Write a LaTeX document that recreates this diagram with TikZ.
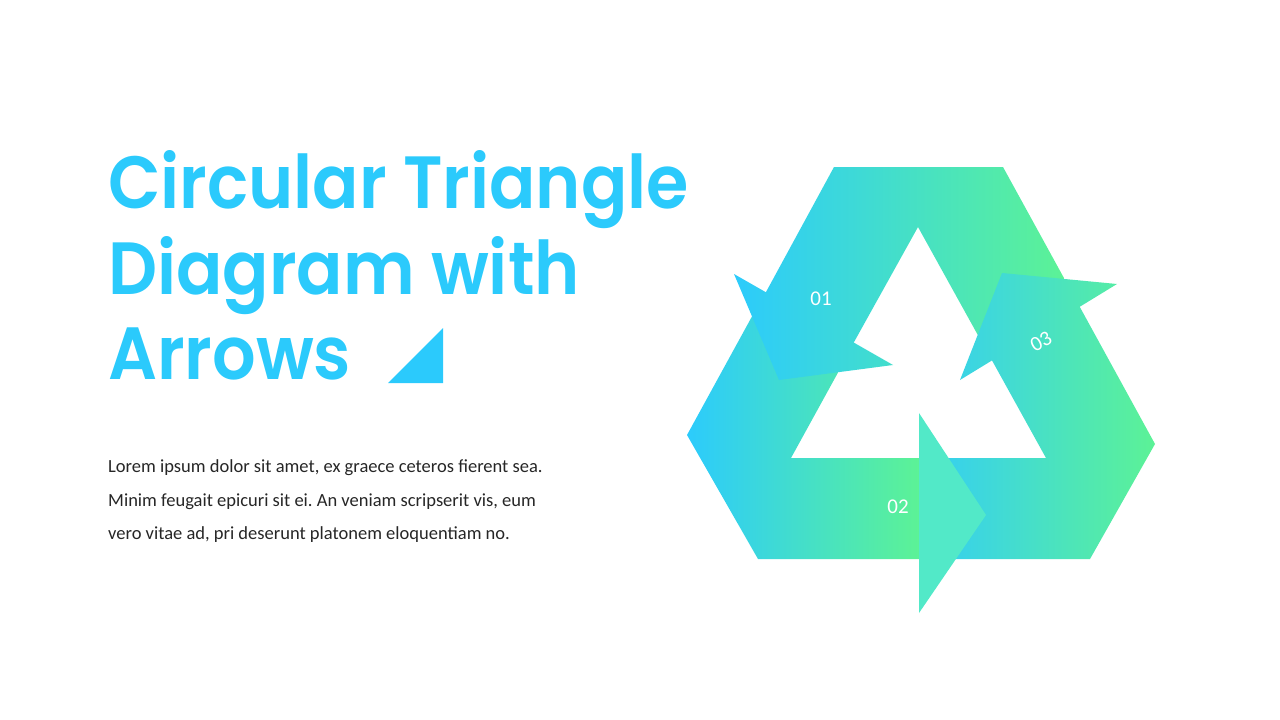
\documentclass[tikz,border=0pt]{standalone}
\usepackage{fontspec}
\setmainfont{Carlito}
\newfontfamily\titlefont{Poppins SemiBold}
\usetikzlibrary{calc}
\usetikzlibrary{positioning}
\definecolor{titleblue}{HTML}{2BCAFC}
\definecolor{recblue}{HTML}{2CCBFC}
\definecolor{reccyan}{HTML}{38D2EA}
\definecolor{recgreen}{HTML}{5CF296}
\definecolor{recmint}{HTML}{52E9C8}
\definecolor{bodygray}{HTML}{262626}
\frenchspacing
\tikzset{
	band/.style={left color=recblue, right color=recgreen},
	bandlate/.style={left color=reccyan, right color=recgreen},
	titleline/.style={
		anchor=base west,
		inner sep=0pt,
		xscale=0.925,
		text=titleblue,
		font=\titlefont\fontsize{74}{86}\selectfont},
	bodyline/.style={
		anchor=base west,
		inner sep=0pt,
		text=bodygray,
		font=\fontsize{18.5}{33}\selectfont},
	numlabel/.style={
		inner sep=0pt,
		text=white,
		font=\fontsize{21}{24}\selectfont},
}

\begin{document}
\begin{tikzpicture}
		[x=1pt, y=-1pt]
		\useasboundingbox (0,0) rectangle (1280,720);
		% title and text
		\node[titleline] (tzeile1) at (108,208) {Circular Triangle};
		\node[titleline] (tzeile2) at (108,294) {Diagram with};
		\node[titleline] (tzeile3) at (108,379) {Arrows};
		\fill[titleblue] (388,383) -- (443,383) -- (443,328) -- cycle;
		\node[bodyline] (text1) at (108,472) {Lorem ipsum dolor sit amet, ex graece ceteros fierent sea.};
		\node[bodyline] (text2) at (108,506) {Minim feugait epicuri sit ei. An veniam scripserit vis, eum};
		\node[bodyline] (text3) at (108,539) {vero vitae ad, pri deserunt platonem eloquentiam no.};
		% bands
		\begin{scope}
			\clip (977.7,334.8) -- (1064.5,279) -- (1003,167) -- (834,167) -- (764.6,294.6)
				-- (852.6,344.6) -- (918,227) -- cycle;
			\shade[band] (734,160) rectangle (1064.5,400);
		\end{scope}
		\begin{scope}
			\clip (752,316.4) -- (687,435) -- (758,559) -- (922,559) -- (922,458)
				-- (791,458) -- (838.2,372.2) -- cycle;
			\shade[band] (687,300) rectangle (919,570);
		\end{scope}
		\begin{scope}
			\clip (948.6,458) -- (1046,458) -- (990.6,357.9) -- (1078.3,304.2)
				-- (1155,444) -- (1090,559) -- (955.9,559) -- cycle;
			\shade[bandlate] (948,270) rectangle (1155,570);
		\end{scope}
		% arrow heads
		\begin{scope}
			\clip (734,274) -- (779,380) -- (893,365) -- cycle;
			\shade[band] (734,160) rectangle (1064.5,400);
		\end{scope}
		\fill[recmint] (919,413) -- (986,515) -- (919,613) -- cycle;
		\begin{scope}
			\clip (960,380) -- (1002,273) -- (1117,284) -- cycle;
			\shade[bandlate] (948,270) rectangle (1155,570);
		\end{scope}
		% numbers
		\node[numlabel] (nr1) at (821,299) {01};
		\node[numlabel] (nr2) at (898,507) {02};
		\node[numlabel, rotate=28] (nr3) at (1041,342) {03};
		\end{tikzpicture}
\end{document}
